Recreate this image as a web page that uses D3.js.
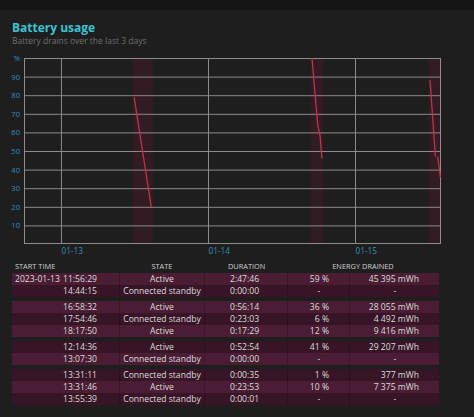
<!DOCTYPE html>
<html><head><meta charset="utf-8">
<script src="https://cdn.jsdelivr.net/npm/d3@7"></script>
<style>
html,body{margin:0;padding:0;background:#1e1e1e;}
svg{display:block;font-family:"Open Sans","Noto Sans",sans-serif;}
</style></head><body>
<svg id="c" width="474" height="417"></svg>
<script>
// ---- data ----
const rowDates = ["2023-01-13","2023-01-13","2023-01-14","2023-01-14","2023-01-14","2023-01-15","2023-01-15","2023-01-15","2023-01-15","2023-01-15"];
const rowTimes = ["11:56:29","14:44:15","16:58:32","17:54:46","18:17:50","12:14:36","13:07:30","13:31:11","13:31:46","13:55:39"];
const dateLabels = ["2023-01-13","","","","","","","","",""];
const states = ["Active","Connected standby","Active","Connected standby","Active","Active","Connected standby","Connected standby","Active","Connected standby"];
const durations = ["2:47:46","0:00:00","0:56:14","0:23:03","0:17:29","0:52:54","0:00:00","0:00:35","0:23:53","0:00:01"];
const drainPct = [59,null,36,6,12,41,null,1,10,null];
const energy = ["45 395","-","28 055","4 492","9 416","29 207","-","377","7 375","-"];
const groups = [0,0,1,1,1,2,2,3,3,3];
const startLevels = [79,20,100,64,58,88,47,47,46,36];
const yTicks = [10,20,30,40,50,60,70,80,90];
const xTickDates = ["2023-01-13","2023-01-14","2023-01-15"];
const xTickLabels = ["01-13","01-14","01-15"];
const xDomain = ["2023-01-12T17:58:00","2023-01-15T14:02:00"];
const headers = ["START TIME","STATE","DURATION","ENERGY DRAINED"];

const svg = d3.select("#c");
const parse = s => new Date(s);
const durSec = s => { const p = s.split(":").map(Number); return p[0]*3600+p[1]*60+p[2]; };

svg.append("rect").attr("width",474).attr("height",10).attr("fill","#141414");

svg.append("text").attr("x",12).attr("y",32).attr("fill","#3ec3d3")
  .attr("font-size",12).attr("font-weight",700).text("Battery usage");
svg.append("text").attr("x",12).attr("y",44).attr("fill","#6f6f6f")
  .attr("font-size",8.5).text("Battery drains over the last 3 days");

// ---- chart ----
const L=24,R=441,T=58,B=244;
const x = d3.scaleTime().domain(xDomain.map(parse)).range([L,R]);
const y = d3.scaleLinear().domain([0,100]).range([B,T]);

const rows = rowDates.map((d,i)=>{
  const s = parse(d+"T"+rowTimes[i]);
  const e = new Date(+s + durSec(durations[i])*1000);
  const lv = startLevels[i];
  return {i, s, e, lv, le: lv-(drainPct[i]||0), g: groups[i]};
});
const grp = d3.groups(rows, r=>r.g).map(([g,rs])=>rs);

// bands
svg.append("g").selectAll("rect").data(grp).join("rect")
  .attr("x", rs=>x(rs[0].s)-1.5)
  .attr("width", rs=>Math.max(3, x(rs[rs.length-1].e)-x(rs[0].s)+3))
  .attr("y",T).attr("height",B-T)
  .attr("fill","#3a1c26").attr("opacity",0.75);

// grid
const gy = svg.append("g").attr("transform",`translate(${L},0)`)
  .call(d3.axisLeft(y).tickValues(yTicks).tickSize(-(R-L)).tickFormat(d3.format("d")));
gy.select(".domain").remove();
gy.selectAll("line").attr("stroke","#8c8c8c").attr("stroke-width",1);
gy.selectAll("text").attr("fill","#2f8fbd").attr("font-size",7.6).attr("x",-4)
  .attr("font-family","Open Sans, Noto Sans, sans-serif");

svg.append("text").attr("x",20).attr("y",61).attr("text-anchor","end")
  .attr("fill","#2f8fbd").attr("font-size",7.6).text("%");

const gx = svg.append("g").attr("transform",`translate(0,${B})`)
  .call(d3.axisBottom(x).tickValues(xTickDates.map(d=>parse(d+"T00:00:00")))
    .tickSize(-(B-T)).tickFormat((d,i)=>xTickLabels[i]));
gx.select(".domain").remove();
gx.selectAll("line").attr("stroke","#8c8c8c");
gx.selectAll("text").attr("fill","#3a8fb8").attr("font-size",8.2)
  .attr("text-anchor","start").attr("dy","0").attr("y",9.5)
  .attr("font-family","Open Sans, Noto Sans, sans-serif");

svg.append("rect").attr("x",L+0.5).attr("y",T+0.5).attr("width",R-L-1).attr("height",B-T-1)
  .attr("fill","none").attr("stroke","#8c8c8c");

// lines
const line = d3.line().x(p=>x(p[0])).y(p=>y(p[1]));
svg.append("g").selectAll("path").data(grp).join("path")
  .attr("d", rs=>{
    const pts=[];
    rs.forEach(r=>{pts.push([r.s,r.lv]);pts.push([r.e,r.le]);});
    return line(pts);
  })
  .attr("fill","none").attr("stroke","#c2304f").attr("stroke-width",1.3);

// ---- table ----
const colX=[12,120,205,288,350,439];
const hY=268.5;
const th = svg.append("g").attr("fill","#cfcfcf").attr("font-size",7.4);
th.append("text").attr("x",15).attr("y",hY).text(headers[0]);
th.append("text").attr("x",162).attr("y",hY).attr("text-anchor","middle").text(headers[1]);
th.append("text").attr("x",228).attr("y",hY).text(headers[2]);
th.append("text").attr("x",363).attr("y",hY).attr("text-anchor","middle").text(headers[3]);

const rowH=12, gap=4;
let yy=273;
const rowY=[];
rows.forEach((r,i)=>{ if(i>0 && groups[i]!==groups[i-1]) yy+=gap; rowY.push(yy); yy+=rowH; });

const tb = svg.append("g");
rows.forEach((r,i)=>{
  const g = tb.append("g").attr("transform",`translate(0,${rowY[i]})`);
  g.append("rect").attr("x",colX[0]).attr("width",colX[5]-colX[0]).attr("height",rowH)
    .attr("fill", i%2===0 ? "#4a1d34" : "#371526");
  colX.slice(1,5).forEach(cx=>g.append("rect").attr("x",cx-1).attr("width",1).attr("height",rowH)
    .attr("fill", i%2===0 ? "#3a1628" : "#2c101e"));
  const ty=8.8, fs=8.6, col="#dcdcdc";
  const t=(xx,txt,anchor)=>g.append("text").attr("x",xx).attr("y",ty).attr("fill",col)
    .attr("font-size",fs).attr("text-anchor",anchor||"start").text(txt);
  if(dateLabels[i]) t(15,dateLabels[i]);
  t(63,rowTimes[i]);
  t(162,states[i],"middle");
  t(230,durations[i]);
  if(drainPct[i]==null) t(319,"-","middle"); else t(329,drainPct[i]+" %","end");
  if(energy[i]==="-") t(395,"-","middle"); else t(419,energy[i]+" mWh","end");
});
</script>
</body></html>
